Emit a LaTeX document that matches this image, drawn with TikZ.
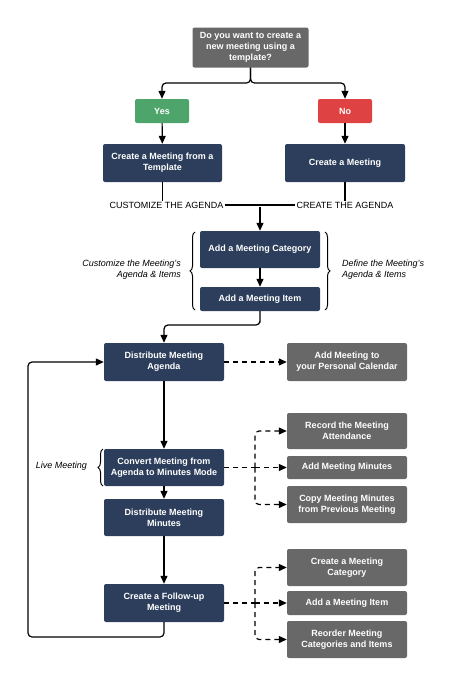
\documentclass[tikz,border=0pt]{standalone}
\usepackage{fontspec}
\setmainfont{Liberation Sans}
\usetikzlibrary{arrows.meta,decorations.pathreplacing}
\definecolor{navy}{HTML}{2C3E5B}
\definecolor{boxgray}{HTML}{686868}
\definecolor{okgreen}{HTML}{4EA56C}
\definecolor{nored}{HTML}{DF4242}
\tikzset{
  box/.style={rectangle, rounded corners=2pt, fill=navy, text=white, align=center,
    font=\fontsize{9}{10.7}\selectfont\bfseries, minimum width=120pt, inner sep=0pt},
  gbox/.style={box, fill=boxgray},
  arr/.style={line width=1.2pt, -{Triangle[length=8pt,width=7pt]}},
  plain/.style={line width=1.2pt},
  darr/.style={line width=1.2pt, dash pattern=on 5pt off 4pt, -{Triangle[length=8pt,width=7pt]}},
  dplain/.style={line width=1.2pt, dash pattern=on 5pt off 4pt},
  lab/.style={font=\fontsize{9}{10.7}\selectfont, inner sep=1pt},
  ilab/.style={font=\fontsize{9}{10.7}\selectfont\itshape, inner sep=0pt},
  brc/.style={line width=1pt, decorate, decoration={brace, amplitude=5pt}}
}
\begin{document}
\begin{tikzpicture}[x=1pt,y=-1pt]
\useasboundingbox (0,0) rectangle (474,678);
% nodes
\node[gbox, minimum width=116pt, minimum height=40pt] (q) at (250.5,47.5) {Do you want to create a\\new meeting using a\\template?};
\node[box, fill=okgreen, minimum width=54pt, minimum height=24pt] (yes) at (162,111) {Yes};
\node[box, fill=nored, minimum width=54pt, minimum height=24pt] (no) at (345,111) {No};
\node[box, minimum width=119pt, minimum height=38pt] (tmpl) at (162.5,163) {Create a Meeting from a\\Template};
\node[box, minimum height=38pt] (cm) at (345,163) {Create a Meeting};
\node[lab] (l1) at (166.5,205) {CUSTOMIZE THE AGENDA};
\node[lab] (l2) at (345,205) {CREATE THE AGENDA};
\node[box, minimum height=37pt] (cat) at (260,249.5) {Add a Meeting Category};
\node[box, minimum height=24pt] (item) at (260,299) {Add a Meeting Item};
\node[box, minimum height=38pt] (dma) at (164,362) {Distribute Meeting\\Agenda};
\node[gbox, minimum height=38pt] (cal) at (347,362) {Add Meeting to\\your Personal Calendar};
\node[box, minimum height=37pt] (conv) at (164,467.5) {Convert Meeting from\\Agenda to Minutes Mode};
\node[gbox, minimum height=36pt] (rec) at (347,431) {Record the Meeting\\Attendance};
\node[gbox, minimum height=23pt] (amm) at (347,467.5) {Add Meeting Minutes};
\node[gbox, minimum height=37pt] (copy) at (347,504.5) {Copy Meeting Minutes\\from Previous Meeting};
\node[box, minimum height=37pt] (dmm) at (164,517.5) {Distribute Meeting\\Minutes};
\node[box, minimum height=38pt] (cfm) at (164,603) {Create a Follow-up\\Meeting};
\node[gbox, minimum height=37pt] (cmc) at (347,567.5) {Create a Meeting\\Category};
\node[gbox, minimum height=24pt] (ami) at (347,603) {Add a Meeting Item};
\node[gbox, minimum height=37pt] (reo) at (347,639.5) {Reorder Meeting\\Categories and Items};
% side labels
\node[ilab, align=right, anchor=east] (cl) at (181,269.5) {Customize the Meeting's\\Agenda \& Items};
\node[ilab, align=left, anchor=west] (dl) at (342,269.5) {Define the Meeting's\\Agenda \& Items};
\node[ilab] (lm) at (61.5,466) {Live Meeting};
% coordinates
\coordinate (j1) at (250.5,83);
\coordinate (j2) at (260,206.5);
\coordinate (j4) at (260,325);
\coordinate (j3) at (255,467.5);
\coordinate (j5) at (255,603);
\coordinate (lp) at (28,637);
% connectors
\draw[arr, rounded corners=4pt] (q.south) |- (j1) -| (yes.north);
\draw[arr, rounded corners=4pt] (q.south) |- (j1) -| (no.north);
\draw[arr] (yes) -- (tmpl);
\draw[arr] (no) -- (cm);
\draw[plain] (tmpl.south) -- (tmpl.south |- l1.north);
\draw[plain] (cm.south) -- (l2.north);
\draw[plain] (l1.east) -- (l2.west);
\draw[arr] (j2) -- (cat.north);
\draw[arr] (cat) -- (item);
\draw[arr, rounded corners=4pt] (item.south) |- (j4) -| (dma.north);
\draw[darr] (dma) -- (cal);
\draw[arr] (dma) -- (conv);
\draw[dplain] (conv.east) -- (j3);
\draw[darr] (j3) -- (amm.west);
\draw[darr, rounded corners=4pt] (j3) |- (rec.west);
\draw[darr, rounded corners=4pt] (j3) |- (copy.west);
\draw[arr] (conv) -- (dmm);
\draw[arr] (dmm) -- (cfm);
\draw[dplain] (cfm.east) -- (j5);
\draw[darr] (j5) -- (ami.west);
\draw[darr, rounded corners=4pt] (j5) |- (cmc.west);
\draw[darr, rounded corners=4pt] (j5) |- (reo.west);
\draw[arr, rounded corners=4pt] (cfm.south) |- (lp) |- (dma.west);
% braces
\draw[brc] (195,310) -- (195,232);
\draw[brc] (325,232) -- (325,310);
\draw[brc] (103,486) -- (103,449);
\end{tikzpicture}
\end{document}
